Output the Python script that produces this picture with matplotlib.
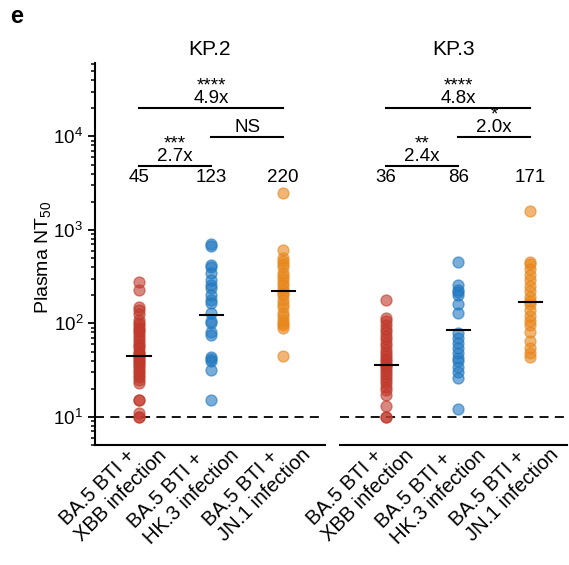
import numpy as np
import matplotlib.pyplot as plt
from matplotlib.ticker import LogLocator, NullFormatter
import matplotlib.transforms as mtransforms

plt.rcParams['font.family'] = ['Liberation Sans', 'DejaVu Sans']
plt.rcParams['mathtext.fontset'] = 'custom'
plt.rcParams['mathtext.rm'] = 'Liberation Sans'

groups = ['BA.5 BTI +\nXBB infection', 'BA.5 BTI +\nHK.3 infection', 'BA.5 BTI +\nJN.1 infection']
colors = ['#C0392B', '#1F78C1', '#E8861A']

# KP.2 neutralization titres
kp2_xbb = [278, 228, 150, 140, 125, 110, 100, 95, 90, 85, 80, 75, 70, 65, 60, 57, 54,
           50, 48, 46, 44, 42, 40, 38, 36, 34, 32, 30, 28, 27, 25, 23, 15, 15, 11, 10, 10]
kp2_hk3 = [700, 680, 420, 400, 350, 290, 260, 240, 200, 180, 165, 130, 105, 100, 80, 75,
           44, 42, 40, 32, 15]
kp2_jn1 = [2500, 610, 500, 470, 430, 400, 350, 320, 300, 270, 250, 230, 210, 200, 180,
           160, 150, 130, 120, 110, 100, 95, 90, 45]
kp2_gm = [45, 123, 220]

# KP.3 neutralization titres
kp3_xbb = [178, 115, 105, 95, 88, 80, 74, 68, 62, 57, 52, 48, 45, 42, 40, 37, 35, 33, 31,
           29, 27, 25, 23, 21, 19.5, 17, 13, 10, 10]
kp3_hk3 = [455, 260, 230, 215, 200, 160, 130, 78, 70, 62, 55, 48, 43, 40, 34, 30, 26, 12]
kp3_jn1 = [1600, 455, 430, 380, 330, 290, 250, 220, 190, 175, 160, 140, 120, 105, 95, 80,
           65, 55, 48, 44]
kp3_gm = [36, 86, 171]

# comparisons: (i, j, fold, stars, level)
kp2_comp = [(0, 1, '2.7x', '***', 0), (1, 2, 'NS', '', 1), (0, 2, '4.9x', '****', 2)]
kp3_comp = [(0, 1, '2.4x', '**', 0), (1, 2, '2.0x', '*', 1), (0, 2, '4.8x', '****', 2)]

W, H = 569, 565
fig = plt.figure(figsize=(W / 100, H / 100), dpi=100)
bottom = 1 - 445 / H
height = (445 - 63) / H
ax1 = fig.add_axes([95 / W, bottom, 230 / W, height])
ax2 = fig.add_axes([340 / W, bottom, 227 / W, height])

panels = [
    (ax1, 'KP.2', [kp2_xbb, kp2_hk3, kp2_jn1], kp2_gm, kp2_comp, (-0.61, 2.58)),
    (ax2, 'KP.3', [kp3_xbb, kp3_hk3, kp3_jn1], kp3_gm, kp3_comp, (-0.64, 2.51)),
]

bar_y = [0.731, 0.807, 0.883]
# offset of the rotated group labels from the category position (pixels at dpi 100)
shift = mtransforms.ScaledTranslation(17 / 100, 0.6 / 100, fig.dpi_scale_trans)

for ax, title, data, gm, comps, xlim in panels:
    for i, vals in enumerate(data):
        ax.scatter(np.full(len(vals), i), vals, s=62, color=colors[i], alpha=0.6,
                   linewidths=1.0, zorder=3)
        ax.plot([i - 0.16, i + 0.16], [gm[i], gm[i]], color='black', lw=1.5, zorder=4)
    ax.axhline(10, color='black', lw=1.3, ls=(0, (5, 3.5)), zorder=2)
    ax.set_yscale('log')
    ax.set_ylim(5, 6.1e4)
    ax.set_xlim(*xlim)
    ax.set_title(title, fontsize=15, pad=5.5)

    tr = mtransforms.blended_transform_factory(ax.transData, ax.transAxes)
    for i, v in enumerate(gm):
        ax.text(i, 0.700, str(v), transform=tr, ha='center', va='center', fontsize=13.5)
    for i, j, fold, stars, lvl in comps:
        y = bar_y[lvl]
        ax.plot([i, j], [y, y], transform=tr, color='black', lw=1.5, clip_on=False)
        label = stars + '\n' + fold if stars else fold
        ax.text((i + j) / 2, y + 0.003, label, transform=tr, ha='center', va='bottom',
                multialignment='center', linespacing=0.62, fontsize=13.5)

    ax.set_xticks(range(3))
    ax.set_xticklabels([])
    ax.tick_params(axis='x', length=0)
    for i, g in enumerate(groups):
        ax.text(i, 0, g, transform=tr + shift, rotation=45, rotation_mode='anchor',
                ha='right', va='center', multialignment='left', fontsize=14.5,
                clip_on=False)
    for side in ['top', 'right']:
        ax.spines[side].set_visible(False)
    ax.spines['bottom'].set_linewidth(1.5)
    ax.spines['left'].set_linewidth(1.5)

ax1.yaxis.set_major_locator(LogLocator(base=10, numticks=10))
ax1.yaxis.set_minor_locator(LogLocator(base=10, subs=np.arange(2, 10), numticks=10))
ax1.yaxis.set_minor_formatter(NullFormatter())
ax1.tick_params(axis='y', which='major', length=5, width=1.3, labelsize=13.5)
ax1.tick_params(axis='y', which='minor', length=3, width=1.1)
ax1.set_ylabel('Plasma NT$_{50}$', fontsize=14)
ax1.yaxis.set_label_coords(-0.178, 0.49)

ax2.spines['left'].set_visible(False)
ax2.set_yticks([])
ax2.yaxis.set_minor_locator(plt.NullLocator())

fig.text(0.018, 0.97, 'e', fontsize=17, fontweight='bold', ha='left', va='center')

fig.savefig('out.png', dpi=100)
